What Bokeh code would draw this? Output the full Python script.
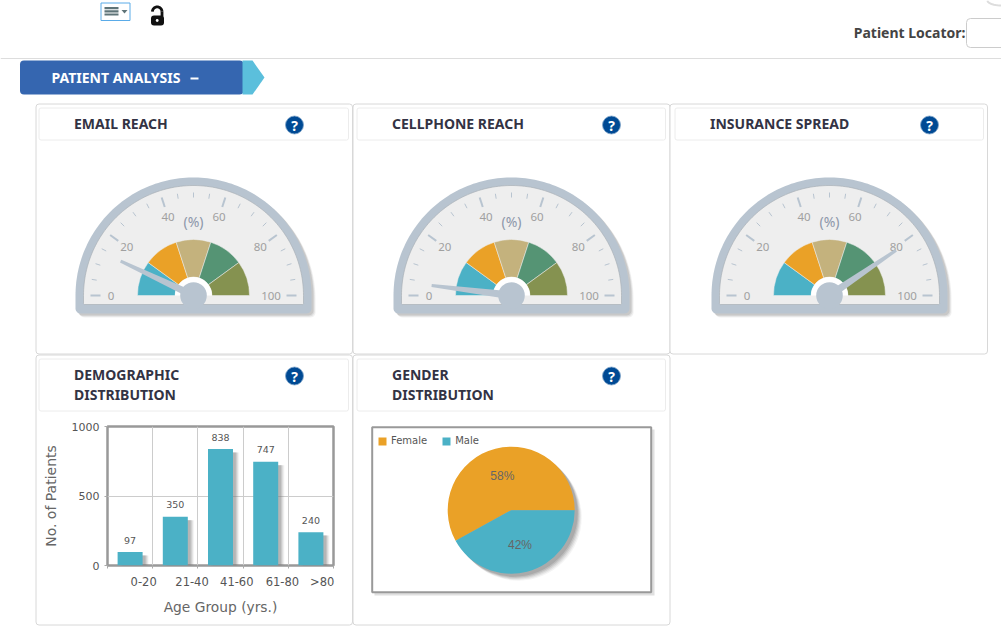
import numpy as np
from bokeh.plotting import figure
from bokeh.core.properties import value as fixed
from bokeh.models import Range1d, FixedTicker, Legend, LegendItem
from bokeh.embed import file_html
from bokeh.resources import INLINE

# ---------- data ----------
section_title = "PATIENT ANALYSIS"
locator_label = "Patient Locator:"
panel_titles = ["EMAIL REACH", "CELLPHONE REACH", "INSURANCE SPREAD"]
gauge_values = [14, 4, 81]
gauge_ticks = [0, 20, 40, 60, 80, 100]
gauge_unit = "(%)"
band_edges = [0, 20, 40, 60, 80, 100]
band_colors = ["#4bb1c6", "#eaa127", "#c4b27d", "#559474", "#859250"]

age_groups = ["0-20", "21-40", "41-60", "61-80", ">80"]
age_counts = [97, 350, 838, 747, 240]
age_label_pos = [0.80, 1.87, 2.86, 3.87, 4.75]
count_ticks = [0, 500, 1000]

gender_names = ["Female", "Male"]
gender_share = [58, 42]
gender_colors = ["#eaa127", "#4bb1c6"]

RIM = "#b8c4d0"
FONT = fixed("Noto Sans")
TICKFONT = "DejaVu Sans"
HEAD = "14px"


def place(p, left, top):
    p.styles = {"position": "absolute", "left": f"{left}px", "top": f"{top}px"}
    return p


def overlay(left, top, w, h, xr, yr):
    p = figure(width=w, height=h, x_range=Range1d(*xr), y_range=Range1d(*yr),
               toolbar_location=None, output_backend="svg", min_border=0,
               min_border_left=0, min_border_right=0, min_border_top=0, min_border_bottom=0,
               background_fill_color=None, border_fill_color=None, outline_line_color=None)
    p.axis.visible = False
    p.grid.visible = False
    return place(p, left, top)


# ---------- page background (pixel space) ----------
bg = overlay(0, 0, 1001, 637, (0, 1001), (637, 0))
bg.background_fill_color = "#ffffff"
bg.segment(0, 58, 1001, 58, line_color="#dddddd", line_width=1)
ta = np.linspace(0, np.pi / 2, 12)
bg.line(1001 - 14 * np.cos(ta), 5 * np.sin(ta), line_color="#dddddd", line_width=2)
bg.quad(left=[966], right=[1010], top=[18], bottom=[47], fill_color="#ffffff",
        line_color="#cccccc", border_radius=4)
bg.text([965], [31.5], text=[locator_label], text_align="right", text_baseline="middle",
        text_font=FONT, text_font_size=HEAD, text_font_style="bold", text_color="#444444")
# menu button
bg.quad(left=[100.5], right=[129.5], top=[2.5], bottom=[20], fill_color="#ffffff",
        line_color="#5aabe8", line_width=1)
bg.quad(left=[104, 104, 104], right=[118, 118, 118], top=[6.5, 9.7, 12.9], bottom=[8.7, 11.9, 15.1],
        fill_color="#5f7478", line_color=None)
bg.patch([121, 127, 124], [9.5, 9.5, 13], fill_color="#5f7478", line_color=None)
# lock
t = np.linspace(0, np.pi, 30)
bg.line(156.7 + 4.8 * np.cos(t), 11.2 - 4.8 * np.sin(t), line_color="#111111", line_width=2.8)
bg.segment(161.5, 11, 161.5, 16, line_color="#111111", line_width=2.8)
bg.quad(left=[150.5], right=[163.5], top=[15], bottom=[25], fill_color="#111111",
        line_color=None, border_radius=3)
bg.circle([156.7], [20], radius=1.4, fill_color="#ffffff", line_color=None)
# section header
bg.quad(left=[19.5], right=[243], top=[60], bottom=[94], fill_color="#3566b0", line_color=None,
        border_radius=4)
bg.patch([242, 252, 264, 252, 242], [60, 60, 77, 94, 94], fill_color="#5bbfdc", line_color=None)
bg.text([51], [76.5], text=[section_title], text_baseline="middle", text_font=FONT,
        text_font_size=HEAD, text_font_style="bold", text_color="#ffffff")
bg.segment(190, 78, 198, 78, line_color="#ffffff", line_width=2)

# panels
panel_l = [35.5, 352.5, 669.5, 35.5, 352.5]
panel_r = [352, 669.5, 987, 352, 669.5]
panel_t = [103.5, 103.5, 103.5, 354.5, 354.5]
panel_b = [353.5, 353.5, 353.5, 624.5, 624.5]
bg.quad(left=panel_l, right=panel_r, top=panel_t, bottom=panel_b, fill_color="#ffffff",
        line_color="#d8d8d8", border_radius=3)
head_l = [38.5, 356.5, 674.5, 38.5, 356.5]
head_r = [348, 665, 983, 348, 665]
head_t = [107.5, 107.5, 107.5, 358.5, 358.5]
head_b = [139.5, 139.5, 139.5, 410.5, 410.5]
bg.quad(left=head_l, right=head_r, top=head_t, bottom=head_b, fill_color="#ffffff",
        line_color="#ececec", border_radius=2)
title_x = [73.5, 391.5, 709.5]
bg.text(title_x, [123, 123, 123], text=panel_titles, text_baseline="middle", text_font=FONT,
        text_font_size=HEAD, text_font_style="bold", text_color="#333344")
bg.text([73.5, 73.5, 391.5, 391.5], [374, 394, 374, 394],
        text=["DEMOGRAPHIC", "DISTRIBUTION", "GENDER", "DISTRIBUTION"],
        text_baseline="middle", text_font=FONT, text_font_size=HEAD, text_font_style="bold",
        text_color="#333344")
qx = [294, 611, 929, 294, 611]
qy = [124.5, 124.5, 124.5, 375.5, 375.5]
bg.circle(qx, qy, radius=9, fill_color="#004a94", line_color="#7fa4c9", line_width=0.8)
bg.text(qx, qy, text=["?"] * 5, text_align="center", text_baseline="middle", text_font=FONT,
        text_font_size="14px", text_font_style="bold", text_color="#ffffff")
# pie box and its shadow
bg.quad(left=[374], right=[654], top=[429], bottom=[595], fill_color="#cccccc",
        fill_alpha=0.6, line_color=None)
bg.quad(left=[371.7], right=[650.7], top=[426.7], bottom=[591.7], fill_color="#ffffff",
        line_color="#999999", line_width=2)


# ---------- gauges ----------
def rim_shape(r, drop, corner):
    a = np.linspace(np.pi, 0, 120)
    c = np.linspace(0, np.pi / 2, 8)
    xs = np.concatenate([r * np.cos(a), r - corner + corner * np.cos(-c),
                         -(r - corner) + corner * np.cos(-np.pi / 2 - c)])
    ys = np.concatenate([r * np.sin(a), -drop + corner + corner * np.sin(-c),
                         -drop + corner + corner * np.sin(-np.pi / 2 - c)])
    return xs, ys


def value_angle(v):
    return np.pi - np.asarray(v, dtype=float) / 100 * np.pi


def gauge(cx, cy, value):
    g = overlay(cx - 126, cy - 126, 252, 152, (-126, 126), (-26, 126))
    ox, oy = rim_shape(118, 18, 5)
    for d, al in ((4, 0.12), (3, 0.18), (2, 0.25)):
        g.patch(ox + d, oy - d, fill_color="#888888", fill_alpha=al, line_color=None)
    g.patch(ox, oy, fill_color=RIM, line_color=None)
    ix, iy = rim_shape(110, 9, 1)
    g.patch(ix, iy, fill_color="#eeeeee", line_color="#a9b0b6", line_width=1, line_alpha=0.7)
    # ticks
    minor = np.array([m for m in range(0, 101, 5) if m not in gauge_ticks])
    am = value_angle(minor)
    g.segment(98 * np.cos(am), 98 * np.sin(am), 103 * np.cos(am), 103 * np.sin(am),
              line_color=RIM, line_width=1)
    aM = value_angle(gauge_ticks)
    g.segment(93 * np.cos(aM), 93 * np.sin(aM), 103 * np.cos(aM), 103 * np.sin(aM),
              line_color=RIM, line_width=2)
    lab_r = 82.5
    g.text(lab_r * np.cos(aM) + np.array([0, 0, 0, 0, 0, -5]), lab_r * np.sin(aM),
           text=[str(k) for k in gauge_ticks], text_align="center", text_baseline="middle",
           text_font=FONT, text_font_size="11.5px", text_color="#a0a0a0")
    g.text([0], [74], text=[gauge_unit], text_align="center", text_baseline="middle",
           text_font=FONT, text_font_size="14px", text_color="#8d97aa")
    # bands
    edges = value_angle(band_edges)
    g.annular_wedge(x=0, y=0, inner_radius=18.5, outer_radius=56, start_angle=edges[1:],
                    end_angle=edges[:-1], fill_color=band_colors, line_color="#eeeeee",
                    line_width=0.5)
    g.annular_wedge(x=0, y=0, inner_radius=12, outer_radius=18.5, start_angle=0, end_angle=np.pi,
                    fill_color="#ffffff", line_color=None)
    # needle
    a = value_angle(value)
    ux, uy = np.cos(a), np.sin(a)
    nx, ny = -uy, ux
    g.patch([4 * nx, 80.5 * ux + 1.5 * nx, 80.5 * ux - 1.5 * nx, -4 * nx],
            [4 * ny, 80.5 * uy + 1.5 * ny, 80.5 * uy - 1.5 * ny, -4 * ny],
            fill_color=RIM, line_color=None)
    g.circle([0], [0], radius=13.3, fill_color=RIM, line_color=None)
    return g


gauges = [gauge(c, 295, v) for c, v in zip([193, 511, 829], gauge_values)]

# ---------- bar chart ----------
bars = figure(width=316, height=212, x_range=Range1d(0, 5), y_range=Range1d(0, 1000),
              toolbar_location=None, output_backend="svg",
              min_border_left=71, min_border_right=19, min_border_top=16, min_border_bottom=57,
              background_fill_color="#ffffff", border_fill_color=None,
              outline_line_color="#999999", outline_line_width=2.5)
place(bars, 36, 410)
centers = np.arange(len(age_counts)) + 0.5
counts = np.array(age_counts, dtype=float)
for dx, al in ((0.14, 0.06), (0.12, 0.10), (0.10, 0.14), (0.08, 0.18), (0.06, 0.22)):
    bars.vbar(x=centers + dx, top=np.maximum(counts - 25, 0), width=0.553, bottom=0,
              fill_color="#777777", fill_alpha=al, line_color=None)
bars.vbar(x=centers, top=counts, width=0.553, bottom=0, fill_color="#4bb1c6",
          line_color=None)
bars.text(centers, counts, text=[str(c) for c in age_counts], text_align="center",
          text_baseline="middle", y_offset=-12, text_font=fixed(TICKFONT), text_font_size="9.5px",
          text_color="#555555")
ax = bars.xaxis[0]
ax.ticker = FixedTicker(ticks=age_label_pos, minor_ticks=list(range(0, 6)))
ax.major_label_overrides = dict(zip(age_label_pos, age_groups))
ax.major_tick_in = 0
ax.major_tick_out = 0
ax.minor_tick_in = 0
ax.minor_tick_out = 3
ax.minor_tick_line_color = "#aaaaaa"
ax.axis_line_color = None
ax.major_label_standoff = 6
ax.major_label_text_font = TICKFONT
ax.major_label_text_font_size = "11.5px"
ax.major_label_text_color = "#555555"
ax.axis_label = "Age Group (yrs.)"
ax.axis_label_text_font = TICKFONT
ax.axis_label_text_font_size = "13.8px"
ax.axis_label_text_font_style = "normal"
ax.axis_label_text_color = "#666666"
ax.axis_label_standoff = 7
ay = bars.yaxis[0]
ay.ticker = FixedTicker(ticks=count_ticks, minor_ticks=[])
ay.major_tick_in = 0
ay.major_tick_out = 3
ay.major_tick_line_color = "#aaaaaa"
ay.axis_line_color = None
ay.major_label_standoff = 5
ay.major_label_text_font = TICKFONT
ay.major_label_text_font_size = "11px"
ay.major_label_text_color = "#555555"
ay.axis_label = "No. of Patients"
ay.axis_label_text_font = TICKFONT
ay.axis_label_text_font_size = "14px"
ay.axis_label_text_font_style = "normal"
ay.axis_label_text_color = "#666666"
ay.axis_label_standoff = 10
bars.xgrid.ticker = FixedTicker(ticks=[1, 2, 3, 4])
bars.ygrid.ticker = FixedTicker(ticks=[500])
bars.xgrid.grid_line_color = "#cccccc"
bars.ygrid.grid_line_color = "#cccccc"

# ---------- pie ----------
pie = overlay(371, 426, 281, 167, (-139.7, 141.3), (-83.3, 83.7))
share = np.array(gender_share, dtype=float)
ang = np.cumsum(np.concatenate([[0], share])) / share.sum() * 2 * np.pi
for d, al in ((7, 0.08), (6, 0.12), (5, 0.16), (4, 0.22), (3, 0.28)):
    pie.circle([d], [-d], radius=63.5, fill_color="#777777", fill_alpha=al, line_color=None)
items = []
for i, name in enumerate(gender_names):
    r = pie.wedge(x=0, y=0, radius=63.5, start_angle=ang[i], end_angle=ang[i + 1],
                  fill_color=gender_colors[i], line_color=None)
    items.append(LegendItem(label=name, renderers=[r]))
mid = (ang[:-1] + ang[1:]) / 2
pie.text(35.5 * np.cos(mid), 35.5 * np.sin(mid), text=[f"{s}%" for s in gender_share],
         text_align="center", text_baseline="middle", text_font=fixed("Liberation Sans"),
         text_font_size="12px", text_color="#666666")
leg = Legend(items=items, orientation="horizontal", location=(6, 147), border_line_color=None,
             background_fill_alpha=0, glyph_width=10, glyph_height=10, label_text_font=TICKFONT,
             label_text_font_size="10px", label_text_color="#555555", spacing=14,
             label_standoff=4, padding=4, margin=0)
pie.add_layout(leg)

open("out.html", "w").write(file_html([bg, *gauges, bars, pie], INLINE))
